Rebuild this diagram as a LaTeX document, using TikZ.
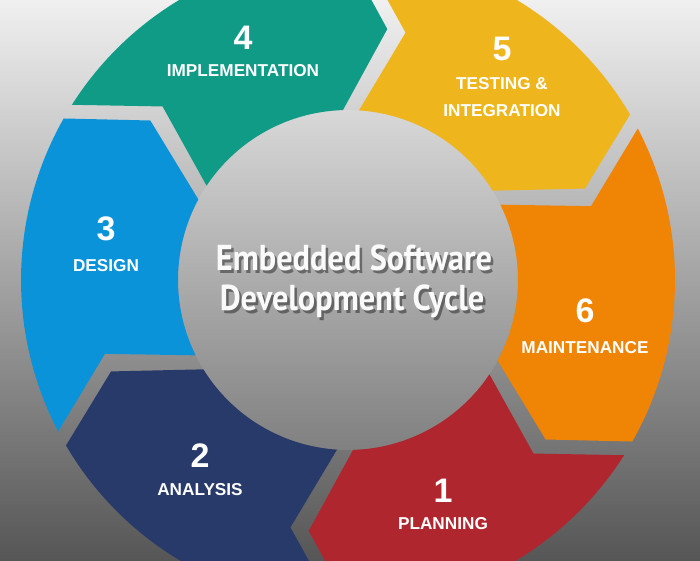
\documentclass[tikz,border=0pt]{standalone}
\usepackage{fontspec}
\setmainfont{Liberation Sans}
\newfontfamily\titlefont[FakeStretch=0.9]{PT Sans}
\usetikzlibrary{positioning}

\definecolor{bgtop}{RGB}{240,240,240}
\definecolor{bgbottom}{RGB}{86,86,86}
\definecolor{disctop}{RGB}{216,216,216}
\definecolor{discbottom}{RGB}{128,128,128}
\definecolor{planred}{RGB}{176,38,46}
\definecolor{analysisblue}{RGB}{40,58,106}
\definecolor{designblue}{RGB}{10,147,216}
\definecolor{impteal}{RGB}{15,155,134}
\definecolor{testyellow}{RGB}{239,181,28}
\definecolor{maintorange}{RGB}{239,132,5}

\begin{document}
\begin{tikzpicture}[
    x=1pt, y=1pt,
    node distance=9pt,
    number/.style={text=white, font=\bfseries\fontsize{34}{34}\selectfont},
    phase/.style={text=white, align=center, font=\bfseries\fontsize{17.2}{27}\selectfont},
    title/.style={text=white!96!gray, font=\titlefont\bfseries\fontsize{36}{40}\selectfont, anchor=base},
    titleshadow/.style={title, text=black, opacity=0.4}
]
    % BACKGROUND
    \useasboundingbox (-348,-280) rectangle (352,280);
    \shade[top color=bgtop, bottom color=bgbottom] (-348,-280) rectangle (352,280);
    \clip (-348,-280) rectangle (352,280);
    \shade[top color=disctop, bottom color=discbottom] (0,0) circle (170);

    % RING
    \fill[planred] (270.4:327) -- (261.1:254) -- (271.7:170) arc[start angle=271.7, end angle=326.3, radius=170] -- (316.9:254) -- (327.6:327) arc[start angle=327.6, end angle=270.4, radius=327] -- cycle;
    \fill[analysisblue] (210.4:327) -- (201.1:254) -- (211.7:170) arc[start angle=211.7, end angle=266.3, radius=170] -- (256.9:254) -- (267.6:327) arc[start angle=267.6, end angle=210.4, radius=327] -- cycle;
    \fill[designblue] (150.4:327) -- (141.1:254) -- (151.7:170) arc[start angle=151.7, end angle=206.3, radius=170] -- (196.9:254) -- (207.6:327) arc[start angle=207.6, end angle=150.4, radius=327] -- cycle;
    \fill[impteal] (90.4:327) -- (81.1:254) -- (91.7:170) arc[start angle=91.7, end angle=146.3, radius=170] -- (136.9:254) -- (147.6:327) arc[start angle=147.6, end angle=90.4, radius=327] -- cycle;
    \fill[testyellow] (30.4:327) -- (21.1:254) -- (31.7:170) arc[start angle=31.7, end angle=86.3, radius=170] -- (76.9:254) -- (87.6:327) arc[start angle=87.6, end angle=30.4, radius=327] -- cycle;
    \fill[maintorange] (-29.6:327) -- (-38.9:254) -- (-28.3:170) arc[start angle=-28.3, end angle=26.3, radius=170] -- (16.9:254) -- (27.6:327) arc[start angle=27.6, end angle=-29.6, radius=327] -- cycle;

    % NODES
    \node[number] (plan_num) at (95,-211) {1};
    \node[phase, below=8pt of plan_num] (plan_txt) {PLANNING};

    \node[number] (analysis_num) at (-148,-176) {2};
    \node[phase, below=9pt of analysis_num] (analysis_txt) {ANALYSIS};

    \node[number] (design_num) at (-242,51) {3};
    \node[phase, below=11pt of design_num] (design_txt) {DESIGN};

    \node[number] (imp_num) at (-105,242) {4};
    \node[phase, below=8pt of imp_num] (imp_txt) {IMPLEMENTATION};

    \node[number] (test_num) at (154,231) {5};
    \node[phase, below=10pt of test_num] (test_txt) {TESTING \&\\INTEGRATION};

    \node[number] (maint_num) at (237,-31) {6};
    \node[phase, below=11pt of maint_num] (maint_txt) {MAINTENANCE};

    % TITLE
    \node[titleshadow] (title_top_shadow) at (8.5,7) {Embedded Software};
    \node[titleshadow] (title_bottom_shadow) at (6.5,-33) {Development Cycle};
    \node[title] (title_top) at (6,10) {Embedded Software};
    \node[title] (title_bottom) at (4,-30) {Development Cycle};

\end{tikzpicture}
\end{document}
